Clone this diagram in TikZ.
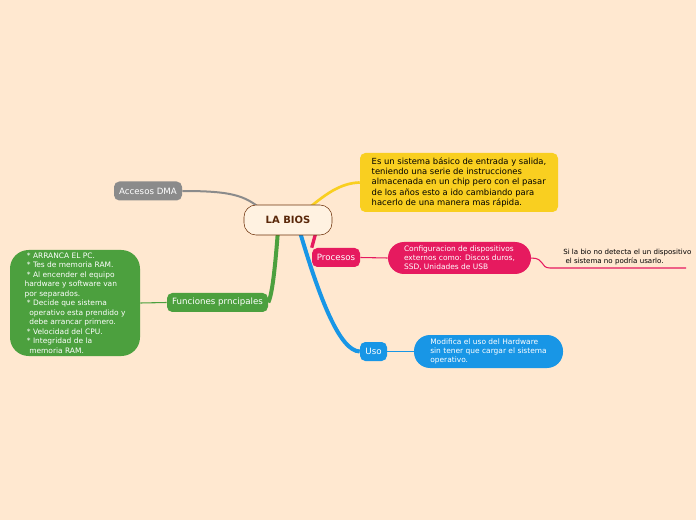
\documentclass[tikz,border=0pt]{standalone}
\usepackage{fontspec}
\setmainfont{DejaVu Sans}
\begin{document}
\begin{tikzpicture}[x=0.75pt,y=-0.75pt,
 box/.style={rounded corners=4pt,text=white,font=\fontsize{6.5}{7.5}\selectfont,inner sep=0pt},
 tx/.style={font=\fontsize{5.3}{6.6}\selectfont,align=left,inner sep=0pt}]
\fill[orange!15!white,fill={rgb,255:red,255;green,232;blue,208}] (0,0) rectangle (696,520);
\useasboundingbox (0,0) rectangle (696,520);
\definecolor{gy}{RGB}{139,139,139}\definecolor{yl}{RGB}{249,207,32}
\definecolor{cr}{RGB}{230,26,95}\definecolor{gr}{RGB}{76,160,62}\definecolor{bl}{RGB}{24,150,230}
% nodes
\node[box,fill=gy,minimum width=68*0.75pt,minimum height=19*0.75pt] (dma) at (148,191) {Accesos DMA};
\node[box,fill=yl,text=black,minimum width=198*0.75pt,minimum height=59*0.75pt,font=\fontsize{6.3}{7.6}\selectfont,align=left] (yel) at (459,182.5) {Es un sistema básico de entrada y salida,\\teniendo una serie de instrucciones\\almacenada en un chip pero con el pasar\\de los años esto a ido cambiando para\\hacerlo de una manera mas rápida.};
\node[box,fill=cr,minimum width=48*0.75pt,minimum height=19*0.75pt] (pro) at (336,257.5) {Procesos};
\node[box,fill=cr,rounded corners=12pt,minimum width=143*0.75pt,minimum height=32*0.75pt,font=\fontsize{5.6}{6.8}\selectfont,align=left] (cfg) at (459.5,258) {Configuracion de dispositivos\\externos como: Discos duros,\\SSD, Unidades de USB};
\node[tx,anchor=west] (nt) at (563,257) {Si la bio no detecta el un dispositivo\\\ el sistema no podría usarlo.};
\coordinate (ne) at (686,268);\coordinate (ns) at (550,268);
\node[box,fill=gr,minimum width=101*0.75pt,minimum height=19*0.75pt] (fun) at (217.5,302.5) {Funciones prncipales};
\node[box,fill=gr,rounded corners=14pt,minimum width=130*0.75pt,minimum height=106*0.75pt,align=left,font=\fontsize{5.6}{7.1}\selectfont] (big) at (75,303) {\ * ARRANCA EL PC.\\\ * Tes de memoria RAM.\\\ * Al encender el equipo\\hardware y software van\\por separados.\\\ * Decide que sistema\\\ \ operativo esta prendido y\\\ \ debe arrancar primero.\\\ * Velocidad del CPU.\\\ * Integridad de la\\\ \ memoria RAM.};
\node[box,fill=bl,minimum width=27*0.75pt,minimum height=19*0.75pt] (uso) at (373.5,351.5) {Uso};
\node[box,fill=bl,rounded corners=12pt,minimum width=149*0.75pt,minimum height=33*0.75pt,align=left,font=\fontsize{5.6}{6.8}\selectfont] (mod) at (488.5,351.5) {Modifica el uso del Hardware\\sin tener que cargar el sistema\\operativo.};
% connectors
\draw[gy,line width=1.5] (dma.east) .. controls (230,191) and (245,195) .. (262,210);
\draw[yl,line width=2] (310,207) .. controls (325,195) and (340,183) .. (yel.west);
\draw[gr,line width=3] (278,230) .. controls (275,270) and (272,295) .. (fun.east);
\draw[cr,line width=2.5] (316,232) -- (pro.north west);
\draw[bl,line width=3] (300,232) .. controls (320,300) and (340,351) .. (uso.west);
\draw[gr,line width=0.8] (fun.west) -- (big.east);
\draw[cr,line width=0.8] (pro.east) -- (cfg.west);
\draw[cr,line width=0.8] (cfg.east) .. controls (545,258) and (540,268) .. (ns) -- (ne);
\draw[bl,line width=0.8] (uso.east) -- (mod.west);
\node[draw={rgb,255:red,110;green,50;blue,10},fill={rgb,255:red,255;green,242;blue,225},rounded corners=9pt,minimum width=88*0.75pt,minimum height=30*0.75pt,font=\bfseries\fontsize{7.5}{9}\selectfont,text={rgb,255:red,90;green,40;blue,10}] (c) at (288,220) {LA BIOS};
\end{tikzpicture}
\end{document}
